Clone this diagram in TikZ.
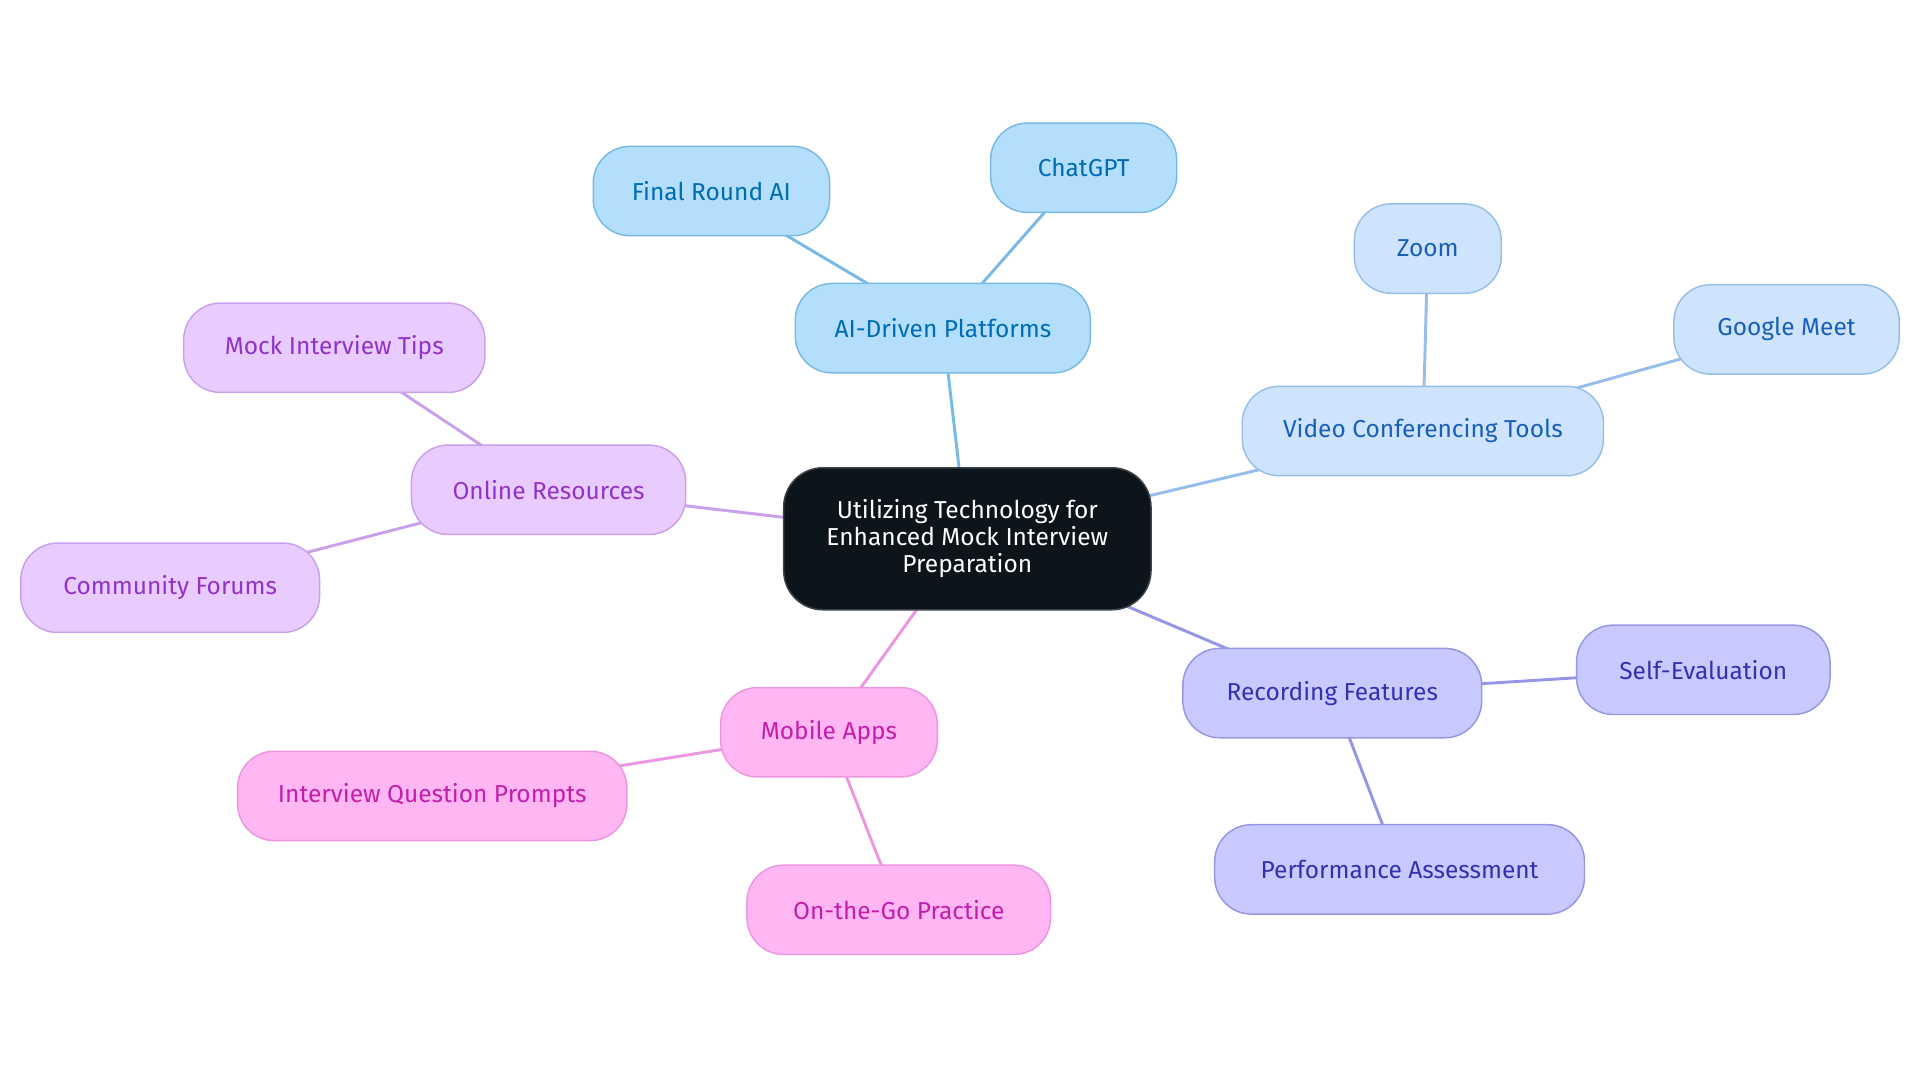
\documentclass[tikz,border=0pt]{standalone}
\usepackage{fontspec}
\setmainfont{Fira Sans}
\usetikzlibrary{backgrounds}
\definecolor{aiFill}{RGB}{179,223,253}
\definecolor{aiDraw}{RGB}{120,185,230}
\definecolor{aiText}{RGB}{0,108,180}
\definecolor{vcFill}{RGB}{206,228,252}
\definecolor{vcDraw}{RGB}{150,190,235}
\definecolor{vcText}{RGB}{25,95,185}
\definecolor{rfFill}{RGB}{200,202,255}
\definecolor{rfDraw}{RGB}{150,150,230}
\definecolor{rfText}{RGB}{50,50,175}
\definecolor{orFill}{RGB}{233,204,255}
\definecolor{orDraw}{RGB}{200,160,235}
\definecolor{orText}{RGB}{145,50,200}
\definecolor{maFill}{RGB}{255,182,242}
\definecolor{maDraw}{RGB}{235,150,225}
\definecolor{maText}{RGB}{195,30,170}
\definecolor{ctrFill}{RGB}{12,20,28}
\begin{document}
\begin{tikzpicture}[x=1pt,y=-1pt,
  pill/.style={rectangle, rounded corners=30pt, minimum height=73pt, inner sep=0pt, line width=1.2pt,
    font=\fontsize{20}{22}\selectfont},
  ai/.style={pill, fill=aiFill, draw=aiDraw, text=aiText},
  vc/.style={pill, fill=vcFill, draw=vcDraw, text=vcText},
  rf/.style={pill, fill=rfFill, draw=rfDraw, text=rfText},
  orr/.style={pill, fill=orFill, draw=orDraw, text=orText},
  ma/.style={pill, fill=maFill, draw=maDraw, text=maText},
  link/.style={line width=2.4pt},
]
\useasboundingbox (0,0) rectangle (1568,884);
\node[rectangle, rounded corners=32pt, fill=ctrFill, draw=ctrFill!80!white, line width=1.2pt,
  minimum width=300pt, minimum height=116pt, text=white, align=center,
  font=\fontsize{20}{22}\selectfont] (ctr) at (790,440)
  {Utilizing Technology for\\Enhanced Mock Interview\\Preparation};

\node[ai, minimum width=241pt] (ai) at (770,268) {AI-Driven Platforms};
\node[ai, minimum width=193pt] (fr) at (581,156) {Final Round AI};
\node[ai, minimum width=152pt] (gpt) at (885,137) {ChatGPT};

\node[vc, minimum width=295pt] (vc) at (1162,352) {Video Conferencing Tools};
\node[vc, minimum width=120pt] (zm) at (1166,203) {Zoom};
\node[vc, minimum width=184pt] (gm) at (1459,269) {Google Meet};

\node[rf, minimum width=244pt] (rf) at (1088,566) {Recording Features};
\node[rf, minimum width=207pt] (se) at (1391,547) {Self-Evaluation};
\node[rf, minimum width=302pt] (pa) at (1143,710) {Performance Assessment};

\node[orr, minimum width=224pt] (or) at (448,400) {Online Resources};
\node[orr, minimum width=246pt] (mt) at (273,284) {Mock Interview Tips};
\node[orr, minimum width=244pt] (cf) at (139,480) {Community Forums};

\node[ma, minimum width=177pt] (ma) at (677,598) {Mobile Apps};
\node[ma, minimum width=318pt] (iq) at (353,650) {Interview Question Prompts};
\node[ma, minimum width=248pt] (og) at (734,743) {On-the-Go Practice};

\begin{scope}[on background layer]
\draw[link, aiDraw] (ctr.center) -- (ai.center);
\draw[link, aiDraw] (ai.center) -- (fr.center);
\draw[link, aiDraw] (ai.center) -- (gpt.center);
\draw[link, vcDraw] (ctr.center) -- (vc.center);
\draw[link, vcDraw] (vc.center) -- (zm.center);
\draw[link, vcDraw] (vc.center) -- (gm.center);
\draw[link, rfDraw] (ctr.center) -- (rf.center);
\draw[link, rfDraw] (rf.center) -- (se.center);
\draw[link, rfDraw] (rf.center) -- (pa.center);
\draw[link, orDraw] (ctr.center) -- (or.center);
\draw[link, orDraw] (or.center) -- (mt.center);
\draw[link, orDraw] (or.center) -- (cf.center);
\draw[link, maDraw] (ctr.center) -- (ma.center);
\draw[link, maDraw] (ma.center) -- (iq.center);
\draw[link, maDraw] (ma.center) -- (og.center);
\end{scope}
\end{tikzpicture}
\end{document}
